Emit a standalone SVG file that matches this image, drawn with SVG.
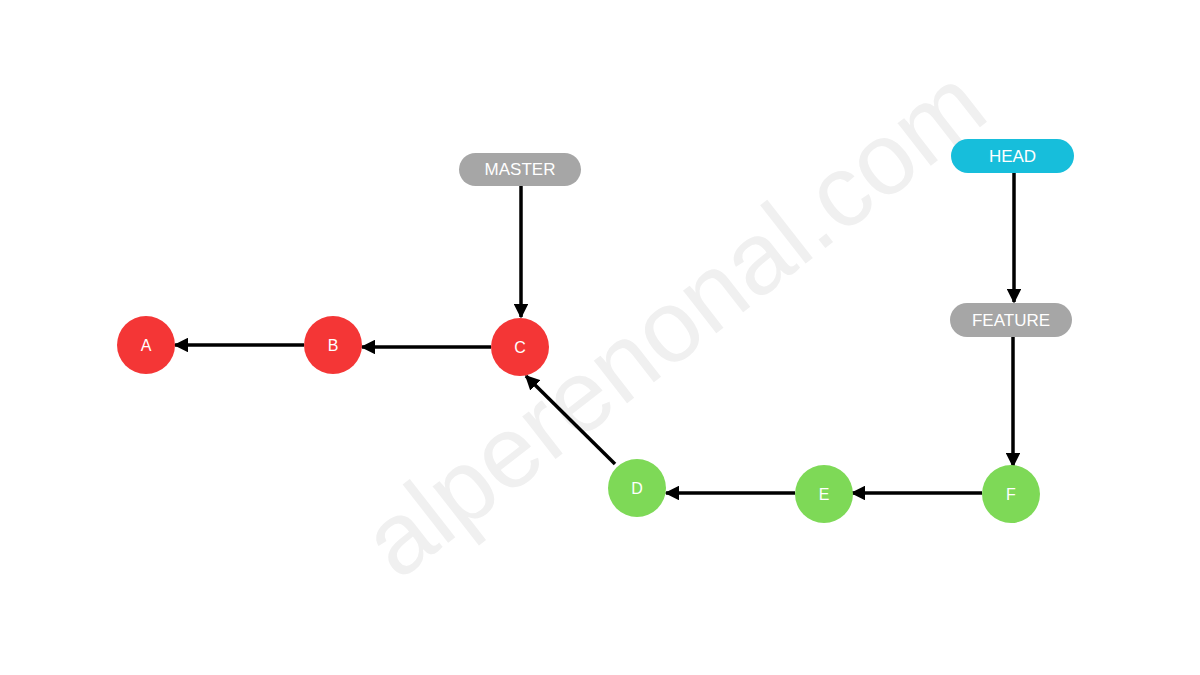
<svg xmlns="http://www.w3.org/2000/svg" width="1200" height="675" viewBox="0 0 1200 675">
<style>
.red{fill:#F43636}
.green{fill:#7ED957}
.pill-gray{fill:#A6A6A6}
.pill-cyan{fill:#17BEDB}
.lbl{font-family:"Liberation Sans",Arial,sans-serif;font-size:16px;fill:#FFFFFF;text-anchor:middle;dominant-baseline:central}
.pl{font-family:"Liberation Sans",Arial,sans-serif;font-size:17px;fill:#FFFFFF;text-anchor:middle;dominant-baseline:central}
.edge{stroke:#000;stroke-width:3.5;fill:none;marker-end:url(#ah)}
.wm{font-family:"Liberation Sans",Arial,sans-serif;font-size:102px;fill:#F0F0F0}
</style>
<defs>
<marker id="ah" viewBox="0 0 10 10" refX="9" refY="5" markerWidth="4.2" markerHeight="4.2" orient="auto" markerUnits="strokeWidth">
<path d="M0,0 L10,5 L0,10 Z" fill="#000"/>
</marker>
</defs>
<rect width="1200" height="675" fill="#FFFFFF"/>
<text class="wm" transform="translate(398,582) rotate(-38)">alperenonal.com</text>
<g id="connectors">
<line class="edge" x1="521" y1="186" x2="521" y2="317"/>
<line class="edge" x1="1014" y1="173" x2="1014" y2="302"/>
<line class="edge" x1="1013" y1="337" x2="1013" y2="466"/>
<line class="edge" x1="304" y1="345" x2="175" y2="345"/>
<line class="edge" x1="491" y1="347" x2="362" y2="347"/>
<line class="edge" x1="615" y1="464" x2="526" y2="376"/>
<line class="edge" x1="795" y1="493" x2="666" y2="493"/>
<line class="edge" x1="982" y1="493" x2="852" y2="493"/>
</g>
<g id="node-A"><circle class="red" cx="146" cy="345" r="29"/><text class="lbl" x="146" y="345">A</text></g>
<g id="node-B"><circle class="red" cx="333" cy="345" r="29"/><text class="lbl" x="333" y="345">B</text></g>
<g id="node-C"><circle class="red" cx="520" cy="347" r="29"/><text class="lbl" x="520" y="347">C</text></g>
<g id="node-D"><circle class="green" cx="637" cy="488" r="29"/><text class="lbl" x="637" y="488">D</text></g>
<g id="node-E"><circle class="green" cx="824" cy="494" r="29"/><text class="lbl" x="824" y="494">E</text></g>
<g id="node-F"><circle class="green" cx="1011" cy="494" r="29"/><text class="lbl" x="1011" y="494">F</text></g>
<g id="node-MASTER"><rect class="pill-gray" x="459" y="153" width="122" height="33" rx="16.5"/><text class="pl" x="520" y="169.5">MASTER</text></g>
<g id="node-HEAD"><rect class="pill-cyan" x="951" y="139" width="123" height="34" rx="17"/><text class="pl" x="1012.5" y="156">HEAD</text></g>
<g id="node-FEATURE"><rect class="pill-gray" x="950" y="303" width="122" height="34" rx="17"/><text class="pl" x="1011" y="320">FEATURE</text></g>
</svg>
